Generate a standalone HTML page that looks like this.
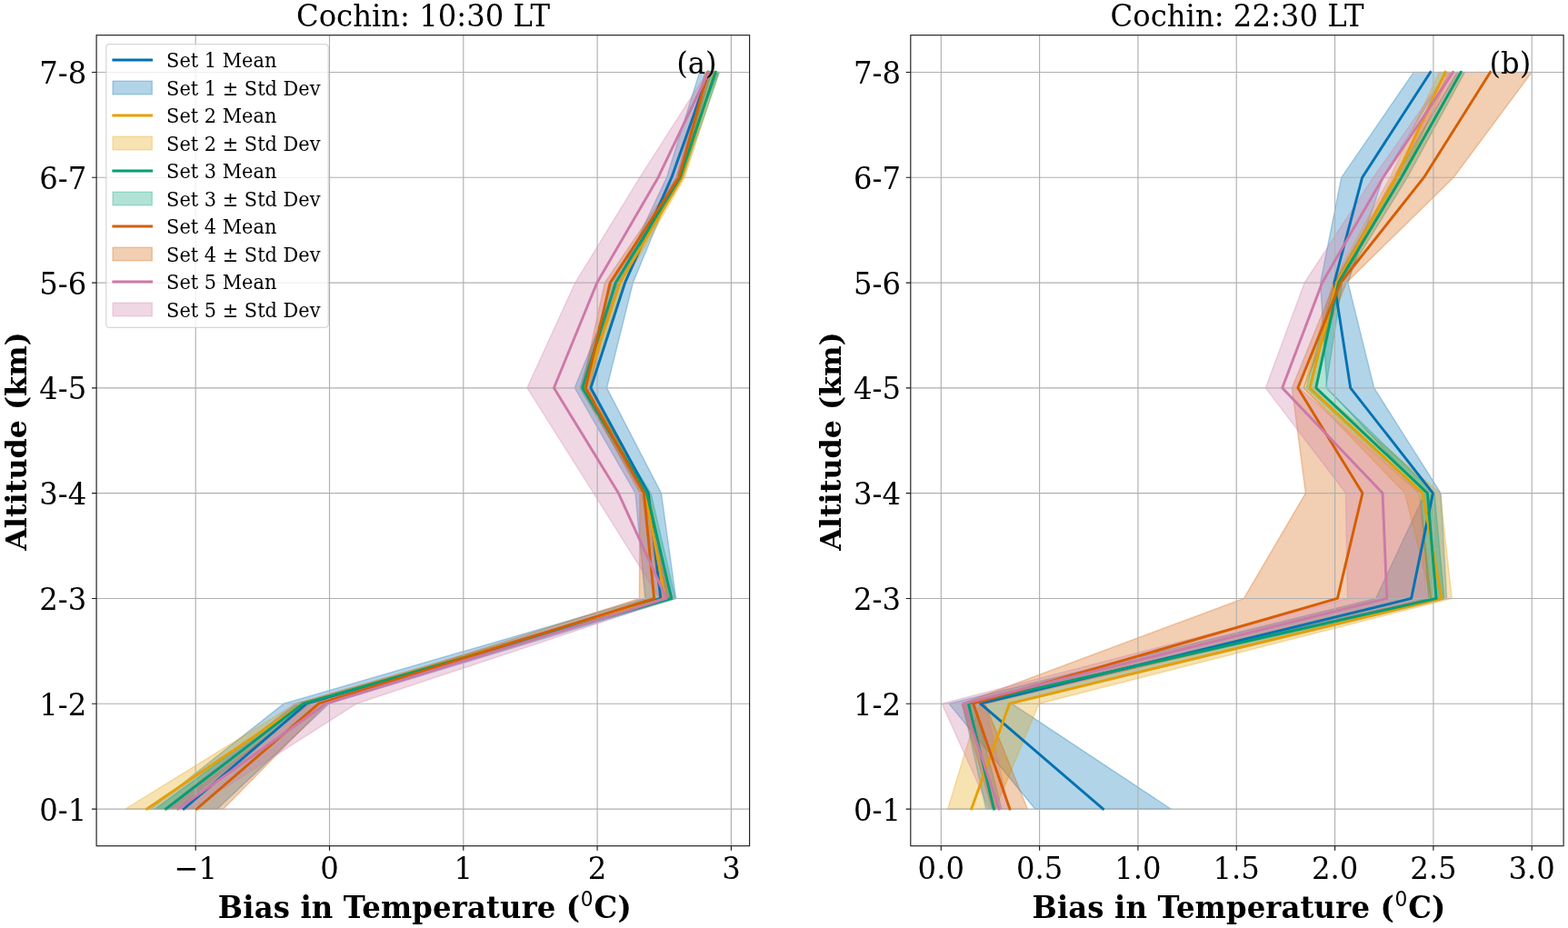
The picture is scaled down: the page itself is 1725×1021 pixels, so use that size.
<!DOCTYPE html>
<html lang="en"><head><meta charset="utf-8"><title>Cochin temperature bias profiles</title>
<style>html,body{margin:0;padding:0;background:#fff}body{width:1725px;height:1021px;overflow:hidden}svg{display:block}text{font-family:"DejaVu Serif","Liberation Serif",serif;fill:#000}.t{font-size:32.3px}.b{font-size:32.3px;font-weight:bold}.l{font-size:20.9px}.g{stroke:#b0b0b0;stroke-width:1.15;fill:none}.k{stroke:#1c1c1c;stroke-width:1.15;fill:none}</style></head><body>
<svg width="1725" height="1021" viewBox="0 0 1725 1021">
<rect width="1725" height="1021" fill="#fff"/>
<g>
<clipPath id="c0"><rect x="106.10" y="38.70" width="718.50" height="892.00"/></clipPath>
<g clip-path="url(#c0)">
<polygon points="165.4,890.0 312.1,774.2 709.8,658.4 698.9,542.6 632.2,426.8 678.8,311.0 733.4,195.2 769.6,79.4 790.3,79.4 744.3,195.2 696.4,311.0 667.6,426.8 727.5,542.6 743.7,658.4 362.2,774.2 239.1,890.0" fill="#0072b2" fill-opacity="0.3" stroke="#0072b2" stroke-opacity="0.3" stroke-width="1.4" stroke-linejoin="miter"/>
<polygon points="138.0,890.0 325.4,774.2 727.5,658.4 705.4,542.6 640.3,426.8 677.7,311.0 747.4,195.2 782.0,79.4 790.8,79.4 753.3,195.2 686.6,311.0 646.2,426.8 714.3,542.6 736.3,658.4 340.1,774.2 185.2,890.0" fill="#e69f00" fill-opacity="0.3" stroke="#e69f00" stroke-opacity="0.3" stroke-width="1.4" stroke-linejoin="miter"/>
<polygon points="170.9,890.0 327.4,774.2 734.3,658.4 707.2,542.6 637.8,426.8 672.9,311.0 745.2,195.2 782.7,79.4 791.6,79.4 751.1,195.2 681.7,311.0 643.7,426.8 716.0,542.6 743.1,658.4 339.2,774.2 194.4,890.0" fill="#009e73" fill-opacity="0.3" stroke="#009e73" stroke-opacity="0.3" stroke-width="1.4" stroke-linejoin="miter"/>
<polygon points="186.9,890.0 341.7,774.2 703.4,658.4 703.9,542.6 639.9,426.8 665.3,311.0 743.9,195.2 775.8,79.4 781.7,79.4 749.8,195.2 677.1,311.0 648.7,426.8 712.8,542.6 735.8,658.4 359.4,774.2 245.8,890.0" fill="#d55e00" fill-opacity="0.3" stroke="#d55e00" stroke-opacity="0.3" stroke-width="1.4" stroke-linejoin="miter"/>
<polygon points="181.2,890.0 324.5,774.2 725.7,658.4 653.0,542.6 579.9,426.8 632.8,311.0 703.9,195.2 778.0,79.4 781.0,79.4 744.3,195.2 680.8,311.0 638.8,426.8 707.8,542.6 740.5,658.4 392.3,774.2 210.6,890.0" fill="#cc79a7" fill-opacity="0.3" stroke="#cc79a7" stroke-opacity="0.3" stroke-width="1.4" stroke-linejoin="miter"/>
<path class="g" d="M215.20 38.70V930.70M362.50 38.70V930.70M509.80 38.70V930.70M657.10 38.70V930.70M804.40 38.70V930.70M106.10 890.05H824.60M106.10 774.25H824.60M106.10 658.45H824.60M106.10 542.65H824.60M106.10 426.85H824.60M106.10 311.05H824.60M106.10 195.25H824.60M106.10 79.45H824.60"/>
<polyline points="202.2,890.0 337.2,774.2 726.8,658.4 713.2,542.6 649.9,426.8 687.6,311.0 738.9,195.2 779.9,79.4" fill="none" stroke="#0072b2" stroke-width="2.9" stroke-linejoin="round" stroke-linecap="square"/>
<polyline points="161.6,890.0 332.7,774.2 731.9,658.4 709.8,542.6 643.3,426.8 682.1,311.0 750.3,195.2 786.4,79.4" fill="none" stroke="#e69f00" stroke-width="2.9" stroke-linejoin="round" stroke-linecap="square"/>
<polyline points="182.6,890.0 333.3,774.2 738.7,658.4 711.6,542.6 640.7,426.8 677.3,311.0 748.1,195.2 787.2,79.4" fill="none" stroke="#009e73" stroke-width="2.9" stroke-linejoin="round" stroke-linecap="square"/>
<polyline points="216.4,890.0 350.6,774.2 719.6,658.4 708.4,542.6 644.3,426.8 671.2,311.0 746.8,195.2 778.8,79.4" fill="none" stroke="#d55e00" stroke-width="2.9" stroke-linejoin="round" stroke-linecap="square"/>
<polyline points="195.9,890.0 358.4,774.2 733.1,658.4 680.4,542.6 609.4,426.8 656.8,311.0 724.1,195.2 779.5,79.4" fill="none" stroke="#cc79a7" stroke-width="2.9" stroke-linejoin="round" stroke-linecap="square"/>
</g>
<rect class="k" x="106.10" y="38.70" width="718.50" height="892.00"/>
<path class="k" d="M215.20 930.70v5.1M362.50 930.70v5.1M509.80 930.70v5.1M657.10 930.70v5.1M804.40 930.70v5.1M106.10 890.05h-5.1M106.10 774.25h-5.1M106.10 658.45h-5.1M106.10 542.65h-5.1M106.10 426.85h-5.1M106.10 311.05h-5.1M106.10 195.25h-5.1M106.10 79.45h-5.1"/>
<text class="t" transform="translate(215.20 966.50) scale(1 1.065)" text-anchor="middle">−1</text>
<text class="t" transform="translate(362.50 966.50) scale(1 1.065)" text-anchor="middle">0</text>
<text class="t" transform="translate(509.80 966.50) scale(1 1.065)" text-anchor="middle">1</text>
<text class="t" transform="translate(657.10 966.50) scale(1 1.065)" text-anchor="middle">2</text>
<text class="t" transform="translate(804.40 966.50) scale(1 1.065)" text-anchor="middle">3</text>
<text class="t" transform="translate(95.30 902.55) scale(1 1.065)" text-anchor="end">0-1</text>
<text class="t" transform="translate(95.30 786.75) scale(1 1.065)" text-anchor="end">1-2</text>
<text class="t" transform="translate(95.30 670.95) scale(1 1.065)" text-anchor="end">2-3</text>
<text class="t" transform="translate(95.30 555.15) scale(1 1.065)" text-anchor="end">3-4</text>
<text class="t" transform="translate(95.30 439.35) scale(1 1.065)" text-anchor="end">4-5</text>
<text class="t" transform="translate(95.30 323.55) scale(1 1.065)" text-anchor="end">5-6</text>
<text class="t" transform="translate(95.30 207.75) scale(1 1.065)" text-anchor="end">6-7</text>
<text class="t" transform="translate(95.30 91.95) scale(1 1.065)" text-anchor="end">7-8</text>
<text class="t" transform="translate(465.45 29.40) scale(1 1.032)" text-anchor="middle">Cochin: 10:30 LT</text>
<text class="b" transform="translate(467.35 1009.60) scale(1 1.050)" text-anchor="middle" style="letter-spacing:0.14px">Bias in Temperature (<tspan dx="0.6" dy="-12.0" style="font-family:'DejaVu Sans','Liberation Sans',sans-serif;font-weight:normal;font-size:21.7px;letter-spacing:0">0</tspan><tspan dx="0.9" dy="12.0">C)</tspan></text>
<text class="b" transform="translate(28.90 485.50) rotate(-90)" text-anchor="middle" style="font-size:31.8px">Altitude (km)</text>
<text class="t" transform="translate(744.20 80.80) scale(1 1.045)">(a)</text>
</g>
<g>
<clipPath id="c1"><rect x="1001.80" y="38.70" width="718.30" height="892.00"/></clipPath>
<g clip-path="url(#c1)">
<polygon points="1138.6,890.0 1044.0,774.2 1513.6,658.4 1567.8,542.6 1459.7,426.8 1452.6,311.0 1475.7,195.2 1555.2,79.4 1592.0,79.4 1521.6,195.2 1483.0,311.0 1511.7,426.8 1585.1,542.6 1591.6,658.4 1113.3,774.2 1288.1,890.0" fill="#0072b2" fill-opacity="0.3" stroke="#0072b2" stroke-opacity="0.3" stroke-width="1.4" stroke-linejoin="miter"/>
<polygon points="1042.7,890.0 1078.0,774.2 1574.4,658.4 1545.5,542.6 1434.3,426.8 1466.1,311.0 1529.2,195.2 1583.4,79.4 1596.4,79.4 1542.2,195.2 1474.7,311.0 1447.3,426.8 1584.5,542.6 1597.3,658.4 1143.0,774.2 1094.7,890.0" fill="#e69f00" fill-opacity="0.3" stroke="#e69f00" stroke-opacity="0.3" stroke-width="1.4" stroke-linejoin="miter"/>
<polygon points="1084.7,890.0 1058.9,774.2 1571.5,658.4 1562.8,542.6 1436.9,426.8 1468.1,311.0 1535.3,195.2 1602.9,79.4 1611.5,79.4 1548.3,195.2 1476.8,311.0 1458.6,426.8 1578.0,542.6 1588.8,658.4 1071.9,774.2 1102.0,890.0" fill="#009e73" fill-opacity="0.3" stroke="#009e73" stroke-opacity="0.3" stroke-width="1.4" stroke-linejoin="miter"/>
<polygon points="1091.4,890.0 1057.8,774.2 1368.3,658.4 1436.3,542.6 1421.3,426.8 1468.3,311.0 1533.8,195.2 1593.8,79.4 1685.2,79.4 1599.2,195.2 1481.3,311.0 1434.3,426.8 1561.5,542.6 1574.5,658.4 1083.8,774.2 1130.4,890.0" fill="#d55e00" fill-opacity="0.3" stroke="#d55e00" stroke-opacity="0.3" stroke-width="1.4" stroke-linejoin="miter"/>
<polygon points="1088.4,890.0 1036.2,774.2 1482.4,658.4 1480.5,542.6 1392.3,426.8 1435.1,311.0 1510.8,195.2 1592.0,79.4 1605.0,79.4 1532.5,195.2 1474.1,311.0 1429.1,426.8 1561.5,542.6 1569.1,658.4 1083.8,774.2 1110.0,890.0" fill="#cc79a7" fill-opacity="0.3" stroke="#cc79a7" stroke-opacity="0.3" stroke-width="1.4" stroke-linejoin="miter"/>
<path class="g" d="M1035.30 38.70V930.70M1143.62 38.70V930.70M1251.93 38.70V930.70M1360.24 38.70V930.70M1468.56 38.70V930.70M1576.88 38.70V930.70M1685.19 38.70V930.70M1001.80 890.05H1720.10M1001.80 774.25H1720.10M1001.80 658.45H1720.10M1001.80 542.65H1720.10M1001.80 426.85H1720.10M1001.80 311.05H1720.10M1001.80 195.25H1720.10M1001.80 79.45H1720.10"/>
<polyline points="1213.4,890.0 1078.6,774.2 1552.6,658.4 1576.4,542.6 1485.7,426.8 1467.8,311.0 1498.7,195.2 1573.6,79.4" fill="none" stroke="#0072b2" stroke-width="2.9" stroke-linejoin="round" stroke-linecap="square"/>
<polyline points="1068.7,890.0 1110.5,774.2 1585.9,658.4 1565.0,542.6 1440.8,426.8 1470.4,311.0 1535.7,195.2 1589.9,79.4" fill="none" stroke="#e69f00" stroke-width="2.9" stroke-linejoin="round" stroke-linecap="square"/>
<polyline points="1093.4,890.0 1065.4,774.2 1580.1,658.4 1570.4,542.6 1447.8,426.8 1472.5,311.0 1541.8,195.2 1607.2,79.4" fill="none" stroke="#009e73" stroke-width="2.9" stroke-linejoin="round" stroke-linecap="square"/>
<polyline points="1110.9,890.0 1070.8,774.2 1471.4,658.4 1498.9,542.6 1427.8,426.8 1474.8,311.0 1566.5,195.2 1639.5,79.4" fill="none" stroke="#d55e00" stroke-width="2.9" stroke-linejoin="round" stroke-linecap="square"/>
<polyline points="1099.2,890.0 1060.0,774.2 1525.8,658.4 1521.0,542.6 1410.7,426.8 1454.6,311.0 1521.6,195.2 1598.5,79.4" fill="none" stroke="#cc79a7" stroke-width="2.9" stroke-linejoin="round" stroke-linecap="square"/>
</g>
<rect class="k" x="1001.80" y="38.70" width="718.30" height="892.00"/>
<path class="k" d="M1035.30 930.70v5.1M1143.62 930.70v5.1M1251.93 930.70v5.1M1360.24 930.70v5.1M1468.56 930.70v5.1M1576.88 930.70v5.1M1685.19 930.70v5.1M1001.80 890.05h-5.1M1001.80 774.25h-5.1M1001.80 658.45h-5.1M1001.80 542.65h-5.1M1001.80 426.85h-5.1M1001.80 311.05h-5.1M1001.80 195.25h-5.1M1001.80 79.45h-5.1"/>
<text class="t" transform="translate(1035.30 966.50) scale(1 1.065)" text-anchor="middle">0.0</text>
<text class="t" transform="translate(1143.62 966.50) scale(1 1.065)" text-anchor="middle">0.5</text>
<text class="t" transform="translate(1251.93 966.50) scale(1 1.065)" text-anchor="middle">1.0</text>
<text class="t" transform="translate(1360.24 966.50) scale(1 1.065)" text-anchor="middle">1.5</text>
<text class="t" transform="translate(1468.56 966.50) scale(1 1.065)" text-anchor="middle">2.0</text>
<text class="t" transform="translate(1576.88 966.50) scale(1 1.065)" text-anchor="middle">2.5</text>
<text class="t" transform="translate(1685.19 966.50) scale(1 1.065)" text-anchor="middle">3.0</text>
<text class="t" transform="translate(991.00 902.55) scale(1 1.065)" text-anchor="end">0-1</text>
<text class="t" transform="translate(991.00 786.75) scale(1 1.065)" text-anchor="end">1-2</text>
<text class="t" transform="translate(991.00 670.95) scale(1 1.065)" text-anchor="end">2-3</text>
<text class="t" transform="translate(991.00 555.15) scale(1 1.065)" text-anchor="end">3-4</text>
<text class="t" transform="translate(991.00 439.35) scale(1 1.065)" text-anchor="end">4-5</text>
<text class="t" transform="translate(991.00 323.55) scale(1 1.065)" text-anchor="end">5-6</text>
<text class="t" transform="translate(991.00 207.75) scale(1 1.065)" text-anchor="end">6-7</text>
<text class="t" transform="translate(991.00 91.95) scale(1 1.065)" text-anchor="end">7-8</text>
<text class="t" transform="translate(1361.05 29.40) scale(1 1.032)" text-anchor="middle">Cochin: 22:30 LT</text>
<text class="b" transform="translate(1362.95 1009.60) scale(1 1.050)" text-anchor="middle" style="letter-spacing:0.14px">Bias in Temperature (<tspan dx="0.6" dy="-12.0" style="font-family:'DejaVu Sans','Liberation Sans',sans-serif;font-weight:normal;font-size:21.7px;letter-spacing:0">0</tspan><tspan dx="0.9" dy="12.0">C)</tspan></text>
<text class="b" transform="translate(924.60 485.50) rotate(-90)" text-anchor="middle" style="font-size:31.8px">Altitude (km)</text>
<text class="t" transform="translate(1638.40 80.80) scale(1 1.045)">(b)</text>
</g>
<g>
<rect x="116.8" y="48.6" width="244.4" height="311.7" rx="3.5" ry="3.5" fill="#fff" fill-opacity="0.8" stroke="#ccc" stroke-opacity="0.8" stroke-width="1.2"/>
<line x1="123.4" x2="168.0" y1="66.0" y2="66.0" stroke="#0072b2" stroke-width="2.9"/>
<text class="l" transform="translate(183.10 74.00) scale(1 1.035)">Set 1 Mean</text>
<rect x="124.1" y="89.2" width="43.2" height="14.6" fill="#0072b2" fill-opacity="0.3" stroke="#0072b2" stroke-opacity="0.3" stroke-width="1.4"/>
<text class="l" transform="translate(183.10 104.50) scale(1 1.035)">Set 1 ± Std Dev</text>
<line x1="123.4" x2="168.0" y1="127.0" y2="127.0" stroke="#e69f00" stroke-width="2.9"/>
<text class="l" transform="translate(183.10 135.00) scale(1 1.035)">Set 2 Mean</text>
<rect x="124.1" y="150.2" width="43.2" height="14.6" fill="#e69f00" fill-opacity="0.3" stroke="#e69f00" stroke-opacity="0.3" stroke-width="1.4"/>
<text class="l" transform="translate(183.10 165.50) scale(1 1.035)">Set 2 ± Std Dev</text>
<line x1="123.4" x2="168.0" y1="188.0" y2="188.0" stroke="#009e73" stroke-width="2.9"/>
<text class="l" transform="translate(183.10 196.00) scale(1 1.035)">Set 3 Mean</text>
<rect x="124.1" y="211.2" width="43.2" height="14.6" fill="#009e73" fill-opacity="0.3" stroke="#009e73" stroke-opacity="0.3" stroke-width="1.4"/>
<text class="l" transform="translate(183.10 226.50) scale(1 1.035)">Set 3 ± Std Dev</text>
<line x1="123.4" x2="168.0" y1="249.0" y2="249.0" stroke="#d55e00" stroke-width="2.9"/>
<text class="l" transform="translate(183.10 257.00) scale(1 1.035)">Set 4 Mean</text>
<rect x="124.1" y="272.2" width="43.2" height="14.6" fill="#d55e00" fill-opacity="0.3" stroke="#d55e00" stroke-opacity="0.3" stroke-width="1.4"/>
<text class="l" transform="translate(183.10 287.50) scale(1 1.035)">Set 4 ± Std Dev</text>
<line x1="123.4" x2="168.0" y1="310.0" y2="310.0" stroke="#cc79a7" stroke-width="2.9"/>
<text class="l" transform="translate(183.10 318.00) scale(1 1.035)">Set 5 Mean</text>
<rect x="124.1" y="333.2" width="43.2" height="14.6" fill="#cc79a7" fill-opacity="0.3" stroke="#cc79a7" stroke-opacity="0.3" stroke-width="1.4"/>
<text class="l" transform="translate(183.10 348.50) scale(1 1.035)">Set 5 ± Std Dev</text>
</g>
</svg></body></html>
